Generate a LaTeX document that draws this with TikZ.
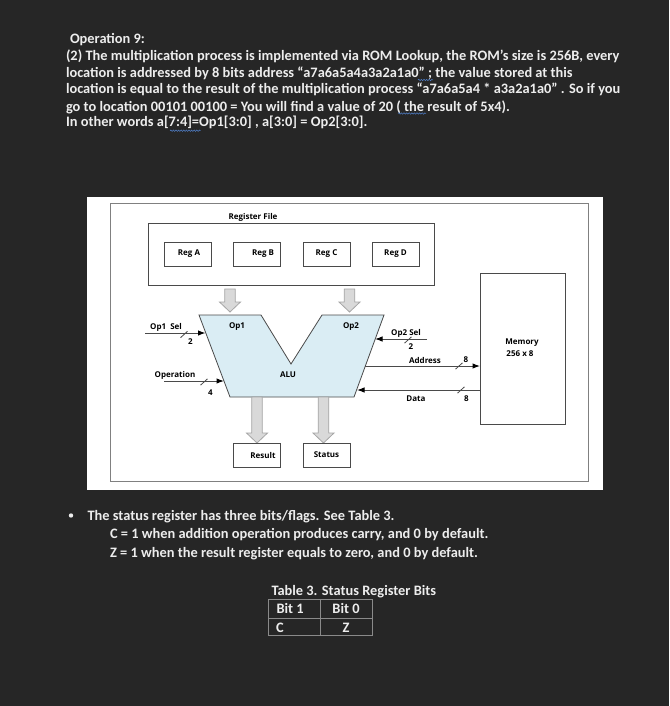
\documentclass[tikz,border=0pt]{standalone}
\usepackage{fontspec}
\setmainfont{Carlito}
\newfontfamily\diagfont{Open Sans}
\usetikzlibrary{arrows.meta,decorations.pathmorphing}
\definecolor{pagebg}{HTML}{262626}
\definecolor{paper}{HTML}{EDEDED}
\definecolor{wire}{HTML}{4A4A4A}
\definecolor{alufill}{HTML}{DAEDF4}
\definecolor{blockfill}{HTML}{D9D9D9}
\definecolor{blockedge}{HTML}{A6A6A6}
\definecolor{squig}{HTML}{4F7FC9}
\definecolor{tblline}{HTML}{8A8A8A}
\tikzset{
  every node/.style={inner sep=0pt,outer sep=0pt},
  para/.style={anchor=base west,text=paper,font=\fontsize{14.4}{16}\selectfont\bfseries},
  dlabel/.style={text=black,font=\diagfont\bfseries\fontsize{8}{9}\selectfont},
  regbox/.style={draw=wire,line width=.9pt,fill=white,minimum width=47pt,minimum height=24pt,dlabel},
  wirearrow/.style={draw=wire,line width=1pt,-{Latex[length=7.5pt,width=5.5pt,black]}},
  slash/.style={draw=wire,line width=.8pt},
  spell/.style={draw=squig,line width=.5pt,decorate,decoration={snake,amplitude=.7pt,segment length=2.6pt}},
  block/.style={draw=blockedge,fill=blockfill,line width=.8pt},
  tblcell/.style={draw=tblline,line width=.8pt}
}
\newcommand{\blockarrow}[3]{%
  \path[block] (#1-5.3,#2) -- (#1+5.3,#2) -- (#1+5.3,#3-10) -- (#1+10.5,#3-10) -- (#1,#3) -- (#1-10.5,#3-10) -- (#1-5.3,#3-10) -- cycle;}
\newcommand{\busmark}[2]{\draw[slash] (#1-3.5,#2+3.2) -- (#1+3.5,#2-3.2);}
\begin{document}
\begin{tikzpicture}[x=1pt,y=-1pt]
\useasboundingbox (0,0) rectangle (669,706);
\fill[pagebg] (0,0) rectangle (669,706);
% heading text
\node[para] (t0) at (70,44) {Operation 9:};
\node[para] (t1) at (66,61) {(2) The multiplication process is implemented via ROM Lookup, the ROM’s size is 256B, every};
\node[para] (t2) at (66,78) {location is addressed by 8 bits address “a7a6a5a4a3a2a1a0” ; the value stored at this};
\node[para] (t3) at (66,94) {location is equal to the result of the multiplication process “a7a6a5a4 * a3a2a1a0” . So if you};
\node[para] (t4) at (66,111) {go to location 00101 00100 = You will find a value of 20 ( the result of 5x4).};
\node[para] (t5) at (66,127) {In other words a[7:4]=Op1[3:0] , a[3:0] = Op2[3:0].};
\draw[spell] (418,80) -- (433,80);
\draw[spell] (398,113.5) -- (426,113.5);
\draw[spell] (170,130.7) -- (200.7,130.7);
% white panel
\fill[white] (87,197) rectangle (603,490);
\draw[draw=gray,line width=.9pt] (110,203) rectangle (588,481);
% register file
\node[dlabel] (rflabel) at (253,217) {Register File};
\node[draw=wire,line width=.9pt,minimum width=285.5pt,minimum height=62pt] (regfile) at (291.2,254) {};
\node[regbox] (rega) at (187.5,254) {\hspace*{3pt}Reg A};
\node[regbox] (regb) at (256.5,254) {\hspace*{13pt}Reg B};
\node[regbox] (regc) at (326.5,254) {Reg C};
\node[regbox] (regd) at (395.5,254) {Reg D};
\blockarrow{230}{289}{312}
\blockarrow{349.5}{289}{312}
% ALU
\coordinate (a1) at (199,315);
\coordinate (a2) at (261,315);
\coordinate (a3) at (291,364);
\coordinate (a4) at (322,315);
\coordinate (a5) at (384,315);
\coordinate (a6) at (354,397);
\coordinate (a7) at (230,397);
\draw[draw=wire,line width=.8pt,fill=alufill] (a1) -- (a2) -- (a3) -- (a4) -- (a5) -- (a6) -- (a7) -- cycle;
\node[dlabel] (op1) at (237,327) {Op1};
\node[dlabel] (op2) at (351,327) {Op2};
\node[dlabel] (alu) at (288,375) {ALU};
% outputs
\blockarrow{257}{397}{443}
\blockarrow{323.5}{397}{443}
\node[regbox] (result) at (256.5,455) {\hspace*{13pt}Result};
\node[regbox] (status) at (326.5,455) {Status};
% memory
\node[draw=wire,line width=.9pt,fill=white,minimum width=85pt,minimum height=151pt] (memory) at (522.5,348.5) {};
\node[dlabel] (memlabel) at (522,343) {Memory};
\node[dlabel] (memsize) at (520,354) {256 x 8};
% control wires
\coordinate (op1s) at (145,333);
\coordinate (op1e) at (205.5,333);
\draw[wirearrow] (op1s) -- (op1e);
\busmark{184}{334.5}
\node[dlabel] (op1sel) at (166,327) {Op1 \ Sel};
\node[dlabel] (n2a) at (190.5,342) {2};
\coordinate (opers) at (164,381);
\coordinate (opere) at (224,381);
\draw[wirearrow] (opers) -- (opere);
\busmark{204}{382}
\node[dlabel] (operation) at (175,375) {Operation};
\node[dlabel] (n4) at (210.5,392.5) {4};
\coordinate (op2s) at (427,339);
\coordinate (op2e) at (375,339);
\draw[wirearrow] (op2s) -- (op2e);
\busmark{408}{340}
\node[dlabel] (op2sel) at (406,333) {Op2 Sel};
\node[dlabel] (n2b) at (411,346.5) {2};
\coordinate (adds) at (365,366);
\draw[wirearrow] (adds) -- (memory.west |- adds);
\busmark{459}{366}
\node[dlabel] (address) at (425,360) {Address};
\node[dlabel] (n8a) at (466,359.5) {8};
\coordinate (datae) at (357,390);
\draw[wirearrow] (memory.west |- datae) -- (datae);
\busmark{461}{390}
\node[dlabel] (data) at (416,399) {Data};
\node[dlabel] (n8b) at (466.5,399) {8};
% status text
\fill[paper] (71,515.5) circle (2.2);
\node[para] (s0) at (87.5,520) {The status register has three bits/flags. See Table 3.};
\node[para] (s1) at (110,538) {C = 1 when addition operation produces carry, and 0 by default.};
\node[para] (s2) at (110,557) {Z = 1 when the result register equals to zero, and 0 by default.};
\node[para] (s3) at (271.5,595) {Table 3. Status Register Bits};
% table
\draw[tblcell] (268,599) rectangle (372.6,635);
\draw[tblcell] (268,618) -- (372.6,618);
\draw[tblcell] (320.5,599) -- (320.5,635);
\node[para] (b1) at (276.5,613) {Bit 1};
\node[para,anchor=base] (b0) at (346,613) {Bit 0};
\node[para] (cc) at (276,632) {C};
\node[para,anchor=base] (zz) at (346,632) {Z};
\end{tikzpicture}
\end{document}
